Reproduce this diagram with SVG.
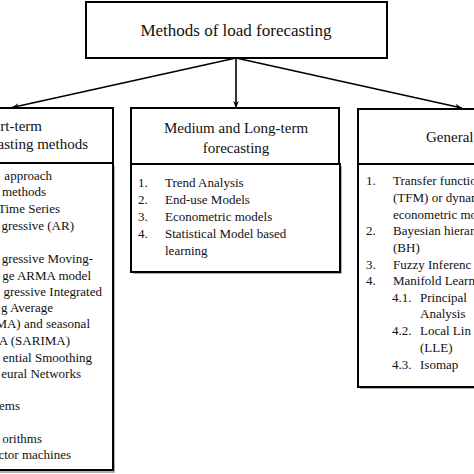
<svg xmlns="http://www.w3.org/2000/svg" width="474" height="474" viewBox="0 0 474 474">
<defs>
<style>
.box{fill:#fff;stroke:#000;stroke-width:2}
.sh{fill:#b0b0b0}
.t{font-family:"Liberation Serif","Times New Roman",serif;font-size:13px;fill:#111}
.h{font-family:"Liberation Serif","Times New Roman",serif;font-size:15px;fill:#111}
.title{font-family:"Liberation Serif","Times New Roman",serif;font-size:17px;fill:#111}
.e{text-anchor:end}
.m{text-anchor:middle}
.conn{stroke:#000;stroke-width:1.6;fill:none;marker-end:url(#ah)}
</style>
<marker id="ah" viewBox="0 0 10 10" refX="10" refY="5" markerWidth="7" markerHeight="7" orient="auto" markerUnits="userSpaceOnUse">
<path d="M0,1 L10,5 L0,9 L3,5 Z" fill="#000"/>
</marker>
</defs>
<rect width="474" height="474" fill="#fff"/>

<g id="connectors">
<line class="conn" x1="236" y1="58" x2="12" y2="107.5"/>
<line class="conn" x1="236" y1="58" x2="236" y2="108"/>
<line class="conn" x1="236" y1="58" x2="462" y2="108"/>
</g>

<g id="root">
<rect class="box" x="86" y="2" width="301" height="56"/>
<text class="title m" x="236" y="36">Methods of load forecasting</text>
</g>

<g id="short-term">
<rect class="sh" x="-8" y="166" width="123" height="307"/>
<rect class="box" x="-10" y="108" width="123" height="55"/>
<rect class="box" x="-10" y="163" width="123" height="307"/>
<text class="h e" x="42" y="131">rt-term</text>
<text class="h e" x="88" y="149">asting methods</text>
<g class="t e">
<text x="52" y="180">approach</text>
<text x="46" y="196">methods</text>
<text x="60" y="213">Time Series</text>
<text x="74" y="230">gressive (AR)</text>
<text x="93" y="263">gressive Moving-</text>
<text x="91" y="280">ge ARMA model</text>
<text x="102" y="296">gressive Integrated</text>
<text x="53" y="312">g Average</text>
<text x="90" y="328">MA) and seasonal</text>
<text x="70" y="345">A (SARIMA)</text>
<text x="92" y="362">ential Smoothing</text>
<text x="81" y="378">eural Networks</text>
<text x="20" y="410">ems</text>
<text x="42" y="443">orithms</text>
<text x="71" y="459">ector machines</text>
</g>
</g>

<g id="medium-long-term">
<rect class="sh" x="133" y="166" width="209" height="108"/>
<rect class="box" x="131" y="108" width="208" height="56"/>
<rect class="box" x="131" y="164" width="209" height="108"/>
<text class="h m" x="236" y="133">Medium and Long-term</text>
<text class="h m" x="236" y="153">forecasting</text>
<g class="t">
<text x="138" y="187">1.</text><text x="165" y="187">Trend Analysis</text>
<text x="138" y="204">2.</text><text x="165" y="204">End-use Models</text>
<text x="138" y="221">3.</text><text x="165" y="221">Econometric models</text>
<text x="138" y="238">4.</text><text x="165" y="238">Statistical Model based</text>
<text x="165" y="255">learning</text>
</g>
</g>

<g id="general">
<rect class="sh" x="360" y="166" width="130" height="223"/>
<rect class="box" x="358" y="109" width="130" height="55"/>
<rect class="box" x="358" y="164" width="130" height="223"/>
<text class="h" x="426" y="142">General</text>
<g class="t">
<text x="366" y="185">1.</text><text x="393" y="185">Transfer functio</text>
<text x="393" y="202">(TFM) or dynam</text>
<text x="393" y="219">econometric mo</text>
<text x="366" y="235">2.</text><text x="393" y="235">Bayesian hierar</text>
<text x="393" y="252">(BH)</text>
<text x="366" y="269">3.</text><text x="393" y="269">Fuzzy Inferenc</text>
<text x="366" y="285">4.</text><text x="393" y="285">Manifold Learn</text>
<text x="392" y="302">4.1.</text><text x="420" y="302">Principal</text>
<text x="420" y="318">Analysis</text>
<text x="392" y="335">4.2.</text><text x="420" y="335">Local Lin</text>
<text x="420" y="352">(LLE)</text>
<text x="392" y="369">4.3.</text><text x="420" y="369">Isomap</text>
</g>
</g>
</svg>
